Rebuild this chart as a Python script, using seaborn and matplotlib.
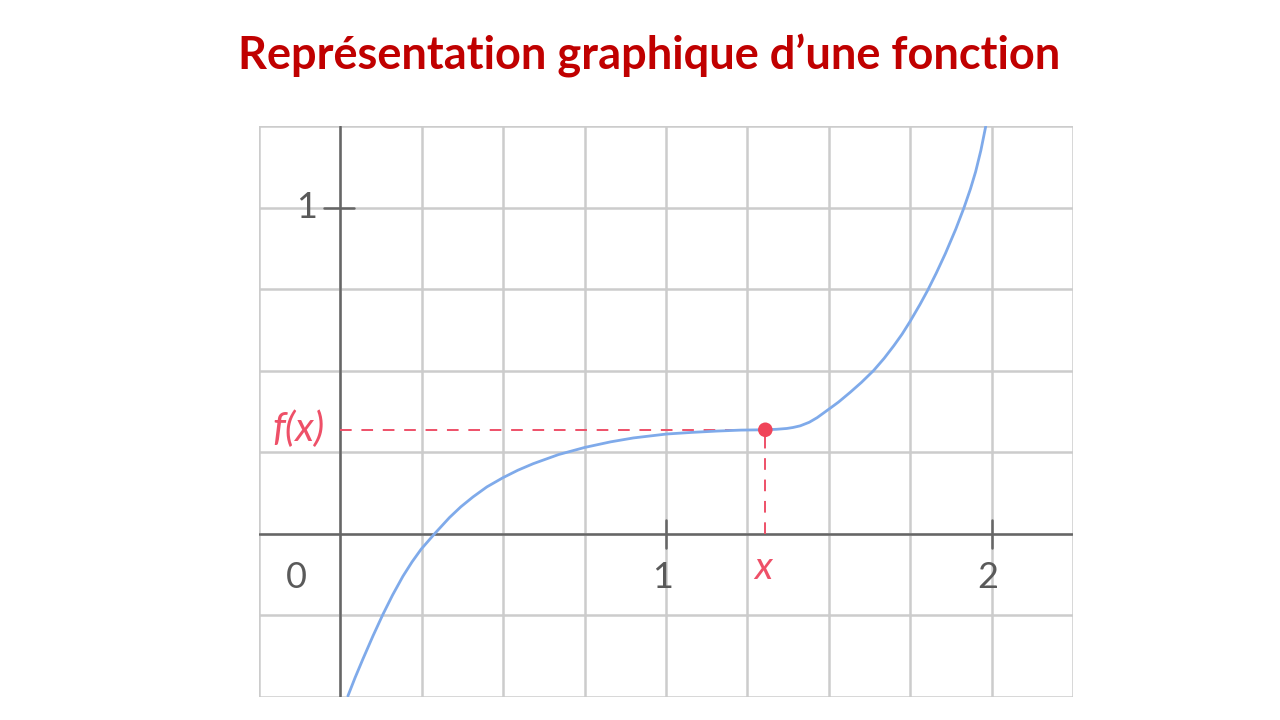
import numpy as np
import matplotlib
matplotlib.use('Agg')
import matplotlib.pyplot as plt
import seaborn as sns

# points
curve_x = [0.023, 0.045, 0.069, 0.10, 0.130, 0.16, 0.192, 0.22, 0.248, 0.289, 0.335,
           0.37, 0.407, 0.45, 0.499, 0.545, 0.592, 0.67, 0.751, 0.83, 0.90, 1.002,
           1.08, 1.156, 1.23, 1.305, 1.34, 1.371, 1.39, 1.412, 1.44, 1.464, 1.50,
           1.53, 1.566, 1.60, 1.638, 1.67, 1.70, 1.725, 1.749, 1.78, 1.804, 1.83,
           1.858, 1.89, 1.915, 1.935, 1.951, 1.967, 1.982]
curve_y = [-0.497, -0.441, -0.384, -0.313, -0.248, -0.188, -0.130, -0.086, -0.047, 0.0, 0.050,
           0.083, 0.113, 0.144, 0.172, 0.195, 0.215, 0.243, 0.265, 0.282, 0.294, 0.306,
           0.311, 0.315, 0.318, 0.319, 0.3205, 0.323, 0.326, 0.331, 0.342, 0.356, 0.382,
           0.404, 0.434, 0.464, 0.501, 0.538, 0.577, 0.612, 0.650, 0.703, 0.747, 0.799,
           0.859, 0.934, 0.999, 1.057, 1.110, 1.175, 1.249]
point_x = 1.305
point_y = 0.319
x_ticks = [1, 2]
y_ticks = [1]
title = "Représentation graphique d\u2019une fonction"

sns.set_theme(style='white')
plt.rcParams['font.family'] = ['Lato', 'DejaVu Sans']

fig = plt.figure(figsize=(12.8, 7.2), dpi=100)
ax = fig.add_axes([259 / 1280, 1 - 697 / 720, (1073 - 259) / 1280, (697 - 126) / 720])

grid_col = '#cccccc'
axis_col = '#666666'
num_col = '#5a5a5a'
pink = '#ee5068'
blue = '#7faaea'

ax.set_xlim(-0.25, 2.25)
ax.set_ylim(-0.5, 1.25)
for gx in np.arange(-0.25, 2.26, 0.25):
    ax.axvline(gx, color=grid_col, lw=1.8, zorder=1)
for gy in np.arange(-0.5, 1.26, 0.25):
    ax.axhline(gy, color=grid_col, lw=1.8, zorder=1)
for s in ax.spines.values():
    s.set_visible(False)
ax.set_xticks([])
ax.set_yticks([])

ax.axhline(0, color=axis_col, lw=1.8, zorder=2)
ax.axvline(0, color=axis_col, lw=1.8, zorder=2)
for t in x_ticks:
    ax.plot([t, t], [-0.043, 0.043], color=axis_col, lw=1.8, zorder=2)
    ax.text(t - 0.012, -0.135, str(t), ha='center', va='center', fontsize=26,
            color=num_col)
for t in y_ticks:
    ax.plot([-0.05, 0.043], [t, t], color=axis_col, lw=1.8, zorder=2)
    ax.text(-0.105, t, str(t), ha='center', va='center', fontsize=26,
            color=num_col)
ax.text(-0.135, -0.135, '0', ha='center', va='center', fontsize=26, color=num_col)

# dashed guides
ax.plot([0, point_x], [point_y, point_y], color=pink, lw=1.4, ls=(0, (6, 5)), zorder=3)
ax.plot([point_x, point_x], [0, point_y], color=pink, lw=1.4, ls=(0, (6, 5)), zorder=3)

sns.lineplot(x=curve_x, y=curve_y, ax=ax, color=blue, lw=2, zorder=4, sort=False)
ax.scatter([point_x], [point_y], s=110, color='#f04459', zorder=5, edgecolor='none')

ax.text(-0.13, point_y + 0.003, 'f(x)', ha='center', va='center', fontsize=29,
        color=pink, style='italic')
ax.text(point_x - 0.005, -0.105, 'x', ha='center', va='center', fontsize=28,
        color=pink, style='italic')

fig.text(649.5 / 1280, 1 - 56 / 720, title, ha='center', va='center',
         fontsize=32.5, fontweight='bold', color='#c00000')

fig.savefig('out.png', dpi=100, facecolor='white')
